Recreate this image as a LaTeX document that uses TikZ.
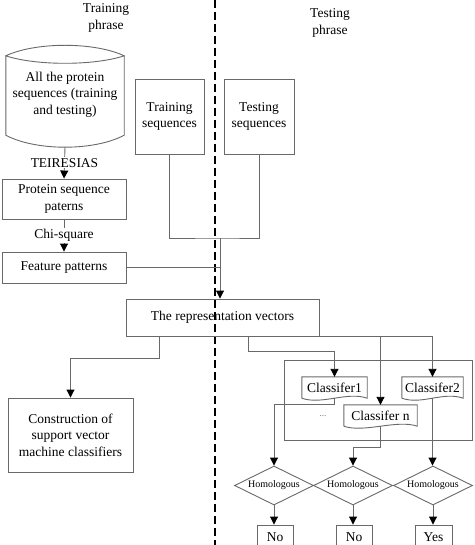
\documentclass[tikz,border=0pt]{standalone}
\usepackage{fontspec}
\setmainfont{Liberation Serif}
\usepackage{tikz}
\usetikzlibrary{arrows.meta,shapes.geometric}
\definecolor{linegray}{RGB}{105,105,105}

\begin{document}
\begin{tikzpicture}[x=1pt, y=-1pt,
  font=\fontsize{13.5}{16.5}\selectfont,
  wire/.style={draw=linegray, line width=0.9pt},
  arr/.style={wire, -{Triangle[width=8pt, length=8pt, color=black]}},
  box/.style={wire, rectangle, align=center, inner sep=1pt},
  doc/.style={rectangle, align=center, inner sep=1pt, minimum height=21pt},
  decide/.style={wire, diamond, aspect=2, inner sep=0.5pt, minimum width=79pt, minimum height=39pt, font=\fontsize{10}{12}\selectfont},
  answer/.style={box, minimum height=24pt}]
\useasboundingbox (0,0) rectangle (474,545);

% phases
\node[align=center] (traintitle) at (106,18) {Training\\phrase};
\node[align=center] (testtitle) at (330,23) {Testing\\phrase};
\coordinate (divtop) at (215,0);
\coordinate (divbot) at (215,545);
\draw[black, line width=1.6pt, dash pattern=on 8pt off 4pt] (divtop) -- (divbot);

% training side
\node[minimum width=118pt, minimum height=79pt] (db) at (65,95.5) {};
\node[align=center, yshift=1pt] (dbtext) at (db.center) {All the protein\\sequences (training\\and testing)};
\draw[wire] (db.north west) .. controls +(30pt,14pt) and +(-30pt,14pt) .. (db.north east)
  .. controls +(-30pt,-10pt) and +(30pt,-10pt) .. (db.north west) -- (db.south west)
  .. controls +(30pt,-16pt) and +(-30pt,-16pt) .. (db.south east) -- (db.north east);
\coordinate (dbbase) at ([yshift=-12pt]db.south);

\node[box, minimum width=124pt, minimum height=40pt] (protein) at (64,199) {Protein sequence\\paterns};
\node[box, minimum width=124pt, minimum height=31pt] (feat) at (64,267.5) {Feature patterns};
\node[box, minimum width=69pt, minimum height=75pt] (trseq) at (169.5,116.5) {Training\\sequences};
\node[box, minimum width=70pt, minimum height=75pt] (teseq) at (259,116.5) {Testing\\sequences};
\node[box, minimum width=193pt, minimum height=37pt] (rep) at (222.5,317.5) {The representation vectors};
\node[box, minimum width=125pt, minimum height=74pt] (svm) at (70.5,435) {Construction of\\support vector\\machine classifiers};

\draw[arr] (dbbase) -- node[fill=white, inner sep=1pt] (teir) {TEIRESIAS} (protein.north);
\draw[arr] (protein.south) -- node[fill=white, inner sep=1pt] (chi) {Chi-square} (feat.north);

\coordinate (join) at (220,238);
\draw[wire] (trseq.south) |- (join) -| (teseq.south);
\draw[wire] (feat.east) -- (feat.east -| join);
\draw[arr] (join) -- (join |- rep.north);

% testing side
\node[wire, minimum width=188pt, minimum height=80pt] (group) at (378,400) {};
\node[doc, minimum width=65pt] (cl1) at (334.5,387.5) {Classifer1};
\node[doc, minimum width=61pt] (cl2) at (432.5,387.5) {Classifer2};
\node[doc, minimum width=73pt] (cln) at (380.5,415.5) {Classifer n};
\node[font=\fontsize{9}{10}\selectfont, text=linegray] (dots) at (323,416) {...};
\foreach \n in {cl1,cl2,cln}
  \draw[wire] (\n.south west) -- (\n.north west) -- (\n.north east) -- (\n.south east)
    .. controls +(-20pt,7pt) and +(20pt,-7pt) .. (\n.south west);

\draw[arr] ([xshift=34pt]rep.south west) -- ++(0,22) -| (svm.north);
\draw[arr] ([xshift=123pt]rep.south west) -- ++(0,15) -| (cl1.north);
\draw[arr] (rep.south east) -| (cl2.north);
\draw[arr] (rep.south east -| cln.north) -- (cln.north);

\node[decide] (d1) at (274,485.5) {Homologous};
\node[decide] (d2) at (353,485.5) {Homologous};
\node[decide] (d3) at (433,485.5) {Homologous};

\draw[arr] (cl1.south) -- ++(0,6) -| (d1.north);
\draw[arr] (cln.south) -- ++(0,21.5) -| (d2.north);
\draw[arr] (cl2.south) -- (cl2.south |- d3.north);

\node[answer, minimum width=36pt] (no1) at (275,537) {No};
\node[answer, minimum width=36pt] (no2) at (354,537) {No};
\node[answer, minimum width=37pt] (yes) at (433.5,537) {Yes};
\draw[arr] (d1.south) -- (d1.south |- no1.north);
\draw[arr] (d2.south) -- (d2.south |- no2.north);
\draw[arr] (d3.south) -- (d3.south |- yes.north);
\end{tikzpicture}
\end{document}
